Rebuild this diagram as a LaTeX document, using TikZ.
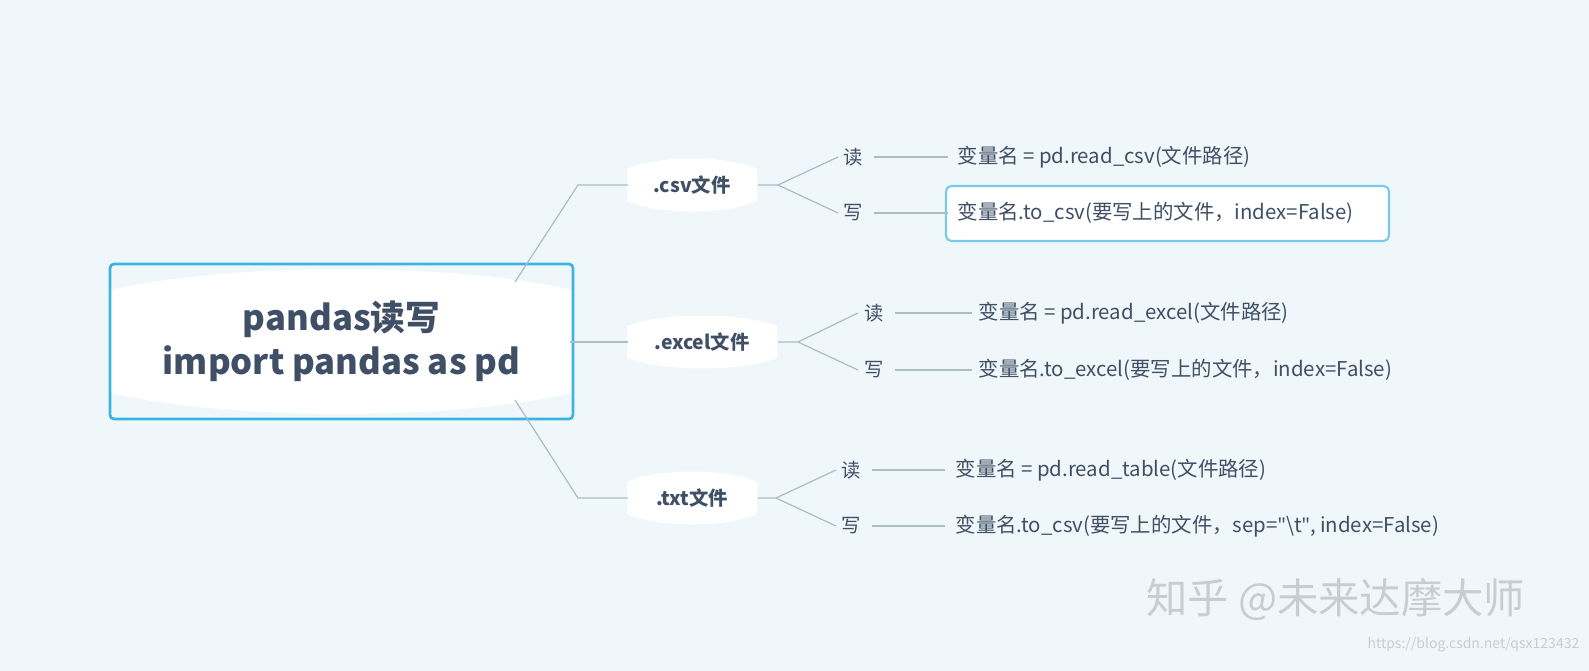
\documentclass[tikz,border=0pt]{standalone}
\usepackage{fontspec}
\setmainfont{Noto Sans CJK SC}
\newfontfamily\latq{Noto Sans}
\definecolor{bg}{HTML}{F0F7FA}
\definecolor{ink}{HTML}{3F4F66}
\definecolor{cy}{HTML}{3BB5E0}
\definecolor{ln}{HTML}{A9BCC8}
\definecolor{wm}{HTML}{C8CDD2}
\begin{document}
\begin{tikzpicture}[x=0.75pt,y=-0.75pt,
  conn/.style={draw=ln,line width=0.9pt},
  lbl/.style={font=\fontsize{14.5}{17}\selectfont,text=ink,inner sep=1pt},
  leaf/.style={font=\fontsize{15.3}{18}\selectfont,text=ink,anchor=west,inner sep=1pt},
  kid/.style={font=\bfseries\fontsize{14.5}{17}\selectfont,text=ink}]
\useasboundingbox (0,0) rectangle (1589,671);
\fill[bg] (0,0) rectangle (1589,671);
% root
\fill[white] (110,264) rectangle (573,419);
\fill[bg] (110,264) -- (573,264) -- (573,290) .. controls (450,262) and (233,262) .. (110,290) -- cycle;
\fill[bg] (110,419) -- (573,419) -- (573,393) .. controls (450,421) and (233,421) .. (110,393) -- cycle;
\draw[cy,line width=2pt,rounded corners=3pt] (110,264) rectangle (573,419);
\node[font=\bfseries\fontsize{26}{33}\selectfont,text=ink,align=center] (root) at (341.5,341.5) {pandas读写\\import pandas as pd};
% children lens shapes
\foreach \cx/\cy/\w in {692/185/65,702/342/75,692/498/65}{
  \fill[white] (\cx-\w,\cy-16) .. controls (\cx-\w/2,\cy-30) and (\cx+\w/2,\cy-30) .. (\cx+\w,\cy-16)
    -- (\cx+\w,\cy+16) .. controls (\cx+\w/2,\cy+30) and (\cx-\w/2,\cy+30) .. (\cx-\w,\cy+16) -- cycle;}
\node[kid] (csv) at (692,185) {.csv文件};
\node[kid] (excel) at (702,342) {.excel文件};
\node[kid] (txt) at (692,498) {.txt文件};
\coordinate (r1) at (515,282); \coordinate (r3) at (515,400);
\draw[conn] (r1) -- (578,185) -- (628,185);
\draw[conn] (570,342) -- (628,342);
\draw[conn] (r3) -- (578,498) -- (628,498);
% leaves
\node[lbl] (cr) at (853,157) {读}; \node[lbl] (cw) at (853,213) {写};
\node[lbl] (er) at (874,313) {读}; \node[lbl] (ew) at (874,370) {写};
\node[lbl] (tr) at (851,470) {读}; \node[lbl] (tw) at (851,526) {写};
\draw[conn] (758,185) -- (778,185) -- (838,157); \draw[conn] (778,185) -- (838,213);
\draw[conn] (778,342) -- (798,342) -- (858,313); \draw[conn] (798,342) -- (858,370);
\draw[conn] (758,498) -- (776,498) -- (836,470); \draw[conn] (776,498) -- (836,526);
\node[leaf] (crt) at (956,157) {变量名 = pd.read\_csv(文件路径)};
\draw[cy!70,line width=1.6pt,rounded corners=4pt,fill=white] (946,186) rectangle (1389,241);
\node[leaf] (cwt) at (956,213) {变量名.to\_csv(要写上的文件，index=False)};
\node[leaf] (ert) at (977,313) {变量名 = pd.read\_excel(文件路径)};
\node[leaf] (ewt) at (977,370) {变量名.to\_excel(要写上的文件，index=False)};
\node[leaf] (trt) at (954,470) {变量名 = pd.read\_table(文件路径)};
\node[leaf] (twt) at (954,526) {变量名.to\_csv(要写上的文件，sep={\latq "}\textbackslash t{\latq "}, index=False)};
\draw[conn] (cr.east) ++(10,0) -- (948,157);
\draw[conn] (cw.east) ++(10,0) -- (948,213);
\draw[conn] (er.east) ++(10,0) -- (972,313);
\draw[conn] (ew.east) ++(10,0) -- (972,370);
\draw[conn] (tr.east) ++(10,0) -- (945,470);
\draw[conn] (tw.east) ++(10,0) -- (945,526);
% watermark
\node[text=wm,font=\fontsize{31}{35}\selectfont,anchor=east] (wm1) at (1530,600) {知乎 @未来达摩大师};
\node[text=wm,font=\fontsize{10.5}{12}\selectfont,anchor=east] (wm2) at (1584,645) {https://blog.csdn.net/qsx123432};
\end{tikzpicture}
\end{document}
